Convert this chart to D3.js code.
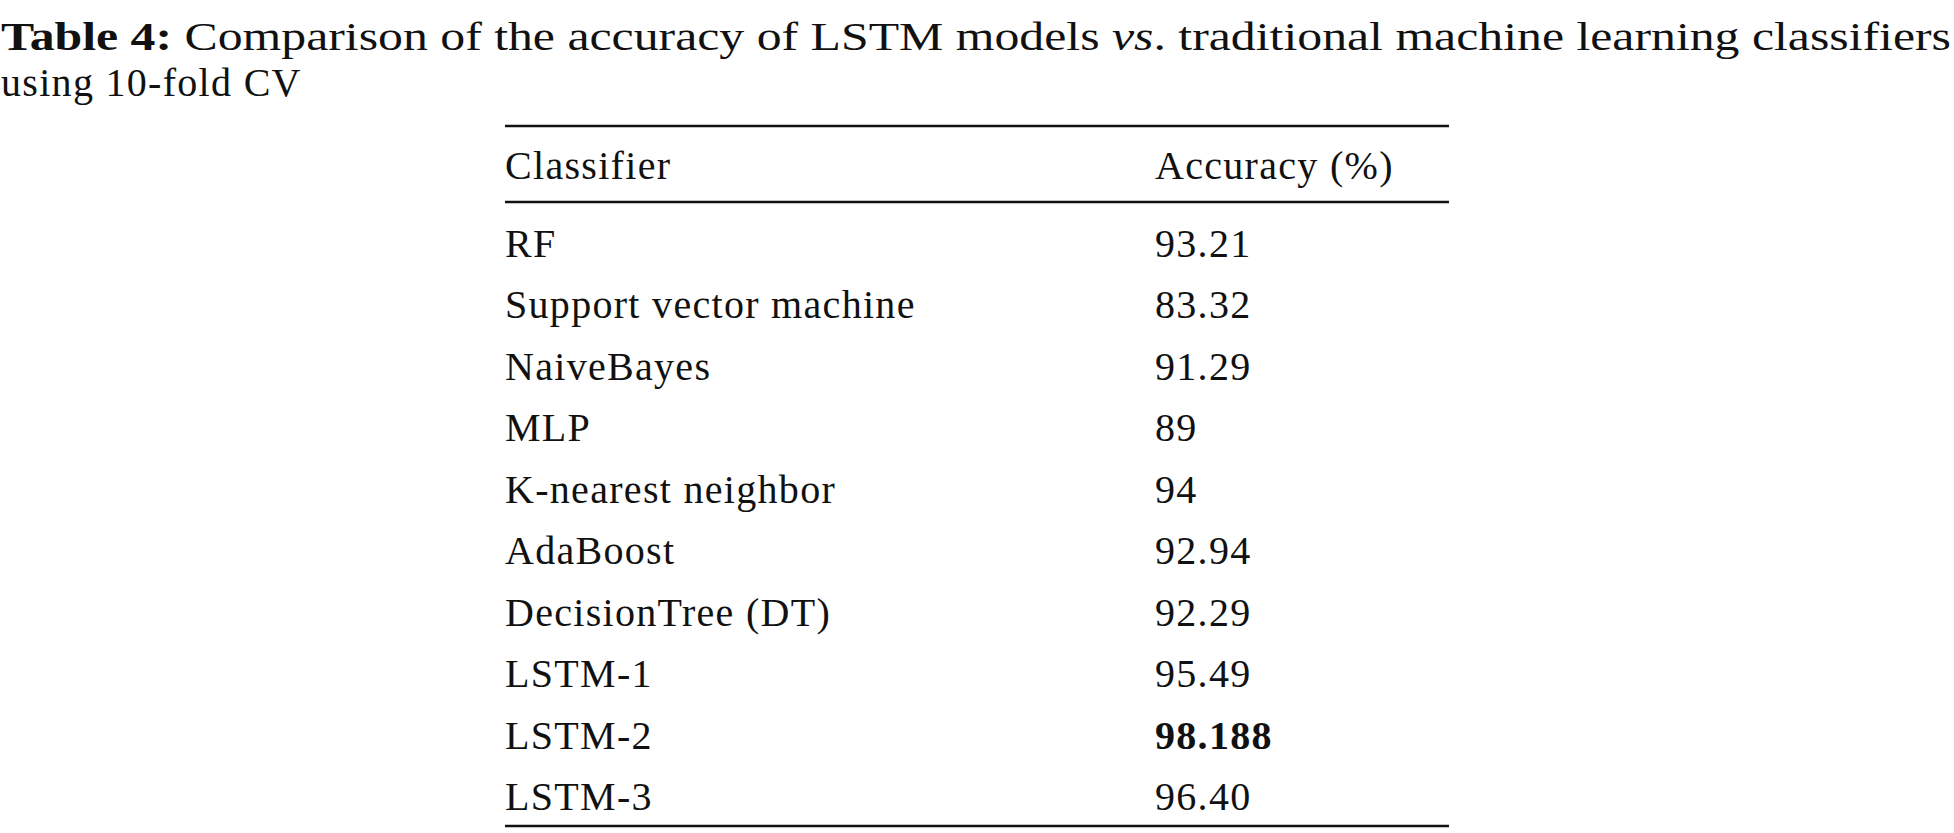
<!DOCTYPE html>
<meta charset="utf-8">
<script src="https://d3js.org/d3.v7.min.js"></script>
<style>body{margin:0;background:#fff}</style>
<div id="tbl"></div>
<script>
// table contents
var classifiers = ["RF", "Support vector machine", "NaiveBayes", "MLP", "K-nearest neighbor",
  "AdaBoost", "DecisionTree (DT)", "LSTM-1", "LSTM-2", "LSTM-3"];
var accuracy = ["93.21", "83.32", "91.29", "89", "94", "92.94", "92.29", "95.49", "98.188", "96.40"];
var bestRow = "LSTM-2";
var headers = ["Classifier", "Accuracy (%)"];

var W = 1954, H = 833;
var font = "'Liberation Serif', 'Times New Roman', serif";
var svg = d3.select("#tbl").append("svg").attr("width", W).attr("height", H)
  .style("font-family", font).style("font-size", "40px").style("letter-spacing", "1.3px")
  .attr("fill", "#111");

// caption
var cap = svg.append("text").attr("x", 1).attr("y", 50)
  .attr("textLength", 1950).attr("lengthAdjust", "spacingAndGlyphs").style("letter-spacing", "0px");
cap.append("tspan").attr("font-weight", "bold").text("Table 4:");
cap.append("tspan").text(" Comparison of the accuracy of LSTM models ");
cap.append("tspan").attr("font-style", "italic").text("vs");
cap.append("tspan").text(". traditional machine learning classifiers");
svg.append("text").attr("x", 1).attr("y", 96).text("using 10-fold CV");

var x0 = 505, x1 = 1449, xAcc = 1155;
var y = d3.scaleBand().domain(classifiers).range([211, 826]);

// rules
[126, 202, 826].forEach(function(r) {
  svg.append("line").attr("x1", x0).attr("x2", x1).attr("y1", r).attr("y2", r)
    .attr("stroke", "#111").attr("stroke-width", 2.5);
});

svg.append("text").attr("x", x0).attr("y", 179).text(headers[0]);
svg.append("text").attr("x", xAcc).attr("y", 179).text(headers[1]);

var rows = svg.selectAll("g.row").data(classifiers).enter().append("g").attr("class", "row");
rows.append("text").attr("x", x0).attr("y", function(d) { return y(d) + y.bandwidth() * 0.74; })
  .text(function(d) { return d; });
rows.append("text").attr("x", xAcc).attr("y", function(d) { return y(d) + y.bandwidth() * 0.74; })
  .attr("font-weight", function(d) { return d === bestRow ? "bold" : null; })
  .text(function(d, i) { return accuracy[i]; });
</script>
